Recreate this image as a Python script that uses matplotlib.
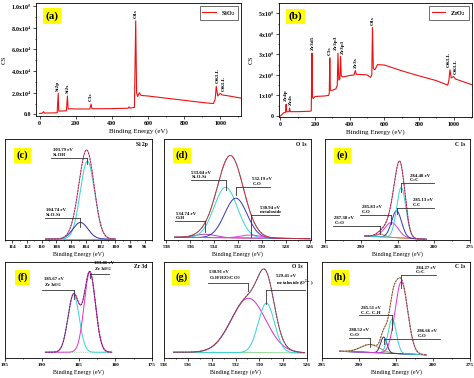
import numpy as np
import matplotlib
matplotlib.use("Agg")
import matplotlib.pyplot as plt
from matplotlib.ticker import FixedLocator, FixedFormatter, MultipleLocator, NullLocator

plt.rcParams['font.family'] = ['Liberation Serif', 'DejaVu Serif']
plt.rcParams['font.weight'] = 'bold'
plt.rcParams['mathtext.fontset'] = 'stix'
plt.rcParams['axes.linewidth'] = 0.6

# ---- survey spectra (binding energy in eV, counts) ----
sio2_be = [0, 15, 22, 28, 60, 97, 103, 106, 148, 154, 158, 175, 200, 278,
           285, 290, 400, 490, 495, 500, 525, 532, 537, 543, 552, 562, 600,
           700, 800, 900, 962, 972, 978, 986, 1000, 1010, 1050, 1115]
sio2_cps = [800, 1200, 2500, 1200, 1300, 1500, 19500, 3000, 3300, 17000, 5000,
            5200, 5000, 5000, 9500, 5200, 5300, 5700, 7000, 5800, 6500, 86500,
            20000, 16500, 20000, 17500, 17000, 15000, 13000, 11000, 10000,
            14000, 26000, 17000, 19500, 18000, 17000, 15000]
sio2_lbl = ['Si2p', 'Si2s', 'C1s', 'O1s', 'OKLL', 'OKLL']
sio2_lbl_be = [103, 154, 285, 532, 978, 1000]

zro2_be = [0, 10, 20, 30, 33, 36, 50, 53, 57, 100, 170, 178, 182, 185, 190,
           200, 250, 278, 282, 285, 288, 300, 320, 328, 332, 337, 343, 347,
           351, 360, 400, 425, 432, 438, 500, 520, 527, 531, 536, 545, 560,
           600, 700, 800, 900, 965, 972, 978, 985, 998, 1010, 1105]
zro2_cps = [0, 8000, 16000, 18000, 57000, 20000, 21000, 38000, 21000, 21000,
            23000, 25000, 306000, 90000, 85000, 95000, 97000, 100000, 110000,
            283000, 125000, 125000, 132000, 150000, 306000, 175000, 180000,
            290000, 195000, 190000, 197000, 200000, 221000, 203000, 200000,
            188000, 200000, 431000, 230000, 225000, 250000, 248000, 220000,
            195000, 172000, 150000, 175000, 225000, 185000, 192000, 180000,
            152000]
zro2_lbl = ['Zr4p', 'Zr4s', 'Zr3d5', 'C1s', 'Zr3p3', 'Zr3p1', 'Zr3s', 'O1s',
            'OKLL', 'OKLL']
zro2_lbl_be = [33, 53, 182, 285, 332, 347, 432, 531, 978, 998]

# ---- peak fits: centre (eV), height (a.u.), FWHM (eV) ----
si2p_c = [103.79, 104.74]
si2p_h = [235, 50]
si2p_w = [2.3, 2.4]
si2p_base = [3, 3]

o1s_si_c = [534.74, 533.04, 532.19, 530.94]
o1s_si_h = [10, 150, 118, 9]
o1s_si_w = [2.0, 2.3, 2.2, 2.0]
o1s_si_base = [8, 4]

c1s_si_c = [287.38, 285.83, 285.13, 284.48]
c1s_si_h = [8, 44, 80, 150]
c1s_si_w = [1.5, 2.2, 1.6, 1.5]
c1s_si_base = [12, 2]

zr3d_c = [185.67, 183.46]
zr3d_h = [180, 250]
zr3d_w = [1.8, 1.8]
zr3d_base = [18, 18]

o1s_zr_c = [530.91, 529.41]
o1s_zr_h = [170, 155]
o1s_zr_w = [3.4, 1.6]
o1s_zr_base = [18, 16]

c1s_zr_c = [288.52, 286.66, 285.51, 284.27]
c1s_zr_h = [25, 50, 108, 225]
c1s_zr_w = [3.0, 1.0, 1.3, 2.0]
c1s_zr_base = [21, 10]

RED = '#ee1111'


def gauss(x, c, h, fwhm):
    s = fwhm / 2.3548
    return h * np.exp(-(x - c) ** 2 / (2 * s * s))


def survey(ax, be, cps, names, lbl_be, shifts, legend):
    ax.plot(be, cps, color=RED, lw=0.8, label=legend)
    for n, e, dx in zip(names, lbl_be, shifts):
        ax.annotate(n, (e, np.interp(e, be, cps)), xytext=(dx, 2),
                    textcoords='offset points', rotation=90, ha='center',
                    va='bottom', fontsize=3.9)
    ax.set_xticks([0, 200, 400, 600, 800, 1000])
    ax.xaxis.set_minor_locator(MultipleLocator(100))
    ax.tick_params(which='both', direction='out', labelsize=4.3, width=0.5)
    ax.tick_params(which='major', length=2, pad=1.5)
    ax.tick_params(which='minor', length=1)
    ax.set_xlabel('Binding Energy (eV)', fontsize=5, labelpad=2)
    ax.set_ylabel('CS', fontsize=5, labelpad=3)
    leg = ax.legend(loc='upper right', fontsize=4.5, handlelength=2.2,
                    fancybox=False, edgecolor='k', borderpad=0.4)
    leg.get_frame().set_linewidth(0.5)


def fit_panel(ax, lo, hi, base, cs, hs, ws, colors, env_col, raw_col, base_col,
              base_ls='-'):
    x = np.linspace(lo, hi, 400)
    b = base[0] + (base[1] - base[0]) * (x - lo) / (hi - lo)
    env = b.copy()
    ax.plot(x, b, color=base_col, lw=0.6, ls=base_ls)
    for c, h, w, col in zip(cs, hs, ws, colors):
        g = gauss(x, c, h, w)
        env = env + g
        ax.plot(x, g + b, color=col, lw=0.7)
    ax.plot(x, env, color=env_col, lw=0.7)
    ax.plot(x, env, color=raw_col, lw=0.6, ls=(0, (2, 1.5)))


def callout(ax, xpk, yline, ybot, xend, xtext, text):
    ax.plot([xend, xpk], [yline, yline], color='#333333', lw=0.6)
    ax.plot([xpk, xpk], [yline, ybot], color='#333333', lw=0.6)
    ax.text(xtext, yline + 3, text, fontsize=3.4, ha='left', va='bottom',
            linespacing=1.15)


def small_axes(ax, lim, major, label, elem, ytop=300):
    ax.set_xlim(*lim)
    ax.set_ylim(0, ytop)
    ax.xaxis.set_major_locator(MultipleLocator(major))
    ax.xaxis.set_minor_locator(MultipleLocator(major / 2))
    ax.yaxis.set_major_locator(NullLocator())
    ax.tick_params(which='both', direction='out', labelsize=3.8, width=0.5)
    ax.tick_params(which='major', length=2, pad=1.5)
    ax.tick_params(which='minor', length=1)
    ax.set_xlabel('Binding Energy (eV)', fontsize=4.3, labelpad=2)
    ax.text(0.12, 0.84, label, transform=ax.transAxes, fontsize=7.5,
            ha='center', va='center', fontweight='bold',
            bbox=dict(boxstyle='square,pad=0.25', fc='#ffff00', ec='none'))
    ax.text(0.97, 0.95, elem, transform=ax.transAxes, fontsize=4,
            ha='right', va='center')


fig = plt.figure(figsize=(4.74, 3.78), dpi=100)
W, H = 474.0, 378.0


def place(x0, x1, y0, y1):
    return fig.add_axes([x0 / W, 1 - y1 / H, (x1 - x0) / W, (y1 - y0) / H])


# (a) SiO2 survey
ax = place(36, 241, 3, 116)
survey(ax, sio2_be, sio2_cps, sio2_lbl, sio2_lbl_be,
       [0, 0, 0, 0, 1.2, 2.8], 'SiO$_2$')
ax.set_xlim(-20, 1115)
ax.set_ylim(-1500, 103000)
ax.yaxis.set_major_locator(FixedLocator([0, 2e4, 4e4, 6e4, 8e4, 1e5]))
ax.yaxis.set_major_formatter(FixedFormatter(
    ['0.0', '2.0x10$^4$', '4.0x10$^4$', '6.0x10$^4$', '8.0x10$^4$',
     '1.0x10$^5$']))
ax.yaxis.set_minor_locator(MultipleLocator(1e4))
ax.text(0.078, 0.885, '(a)', transform=ax.transAxes, fontsize=8,
        ha='center', va='center',
        bbox=dict(boxstyle='square,pad=0.25', fc='#ffff00', ec='none'))

# (b) ZrO2 survey
ax = place(279, 472, 3, 117)
survey(ax, zro2_be, zro2_cps, zro2_lbl, zro2_lbl_be,
       [-0.5, 1.2, 0.8, 0, -1.6, 1.6, 0, 0, -1.0, 1.6], 'ZrO$_2$')
ax.set_xlim(-8, 1105)
ax.set_ylim(-5000, 5.5e5)
ax.yaxis.set_major_locator(FixedLocator([0, 1e5, 2e5, 3e5, 4e5, 5e5]))
ax.yaxis.set_major_formatter(FixedFormatter(
    ['0', '1x10$^5$', '2x10$^5$', '3x10$^5$', '4x10$^5$', '5x10$^5$']))
ax.yaxis.set_minor_locator(MultipleLocator(5e4))
ax.text(0.085, 0.885, '(b)', transform=ax.transAxes, fontsize=8,
        ha='center', va='center',
        bbox=dict(boxstyle='square,pad=0.25', fc='#ffff00', ec='none'))

# (c) Si 2p
ax = place(5, 152, 139, 240)
small_axes(ax, (115, 95), 2, '(c)', 'Si 2p', 305)
fit_panel(ax, 109.5, 100, si2p_base, si2p_c, si2p_h, si2p_w,
          ['#36d3d3', '#2b2ba8'], '#e070b0', '#9a1830', '#e060c0')
callout(ax, 103.79, 248, 230, 108.7, 108.5, '103.79 eV\nSi-OH')
callout(ax, 104.74, 67, 40, 109.6, 109.4, '104.74 eV\nSi-O-Si')

# (d) O 1s on SiO2
ax = place(164, 311, 139, 240)
small_axes(ax, (538.2, 525.9), 2, '(d)', 'O 1s')
fit_panel(ax, 537.3, 526, o1s_si_base, o1s_si_c, o1s_si_h, o1s_si_w,
          ['#b040c0', '#36d3d3', '#3535c0', '#e040e0'], '#8b3a3a',
          '#e03050', '#e05070')
callout(ax, 533.04, 178, 148, 535.9, 535.9, '533.04 eV\nSi-O-Si')
callout(ax, 532.19, 158, 133, 529.3, 530.8, '532.19 eV\nC-O')
callout(ax, 534.74, 55, 23, 537.3, 537.2, '534.74 eV\nO-H')
callout(ax, 530.94, 73, 8, 528.6, 530.2, '530.94 eV\nmetaloxide')

# (e) C 1s on SiO2
ax = place(325, 470, 139, 240)
small_axes(ax, (295, 275), 5, '(e)', 'C 1s')
fit_panel(ax, 289.5, 281, c1s_si_base, c1s_si_c, c1s_si_h, c1s_si_w,
          ['#e08040', '#d040d0', '#3333bb', '#36d3d3'], '#e0508a',
          '#8b2040', '#c07050')
callout(ax, 284.48, 168, 143, 280.0, 283.3, '284.48 eV\nC=C')
callout(ax, 285.13, 96, 78, 280.0, 282.9, '285.13 eV\nC-C')
callout(ax, 285.83, 75, 48, 290.2, 289.9, '285.83 eV\nC-O')
callout(ax, 287.38, 43, 18, 293.9, 293.7, '287.38 eV\nC=O')

# (f) Zr 3d
ax = place(5, 152, 262, 358)
small_axes(ax, (195, 175), 5, '(f)', 'Zr 3d')
fit_panel(ax, 189.5, 180.5, zr3d_base, zr3d_c, zr3d_h, zr3d_w,
          ['#36d3d3', '#e030d0'], '#e030d0', '#333333', '#80d080', ':')
callout(ax, 185.67, 213, 183, 189.9, 189.75,
        '185.67 eV\nZr 3d$_{3/2}$')
callout(ax, 183.46, 262, 250, 180.8, 182.9,
        '183.46 eV\nZr 3d$_{5/2}$')

# (g) O 1s on ZrO2
ax = place(164, 307, 262, 358)
small_axes(ax, (538, 526), 2, '(g)', 'O 1s')
fit_panel(ax, 537.2, 526.2, o1s_zr_base, o1s_zr_c, o1s_zr_h, o1s_zr_w,
          ['#d030d0', '#36d3d3'], '#a05040', '#6a3a8a', '#80d080')
callout(ax, 530.91, 233, 208, 534.3, 534.2,
        '530.91 eV\nO-H/H$_2$O/CO$_3$')
callout(ax, 529.41, 212, 168, 526.2, 528.6,
        '529.41 eV\nmetaloxide (O$^{2-}$)')

# (h) C 1s on ZrO2
ax = place(322, 470, 262, 358)
small_axes(ax, (295, 275), 5, '(h)', 'C 1s')
fit_panel(ax, 292.6, 280.9, c1s_zr_base, c1s_zr_c, c1s_zr_h, c1s_zr_w,
          ['#b0a040', '#2b2ba8', '#36d3d3', '#e030d0'], '#f0a070',
          '#444444', '#202060')
callout(ax, 284.27, 258, 218, 279.6, 282.3, '284.27 eV\nC=C')
callout(ax, 285.51, 133, 88, 290.0, 289.7, '285.51 eV\nC-C, C-H')
callout(ax, 286.66, 60, 43, 279.1, 282.1, '286.66 eV\nC-O')
callout(ax, 288.52, 63, 33, 291.3, 291.3, '288.52 eV\nC=O')

fig.savefig('out.png', dpi=100)
